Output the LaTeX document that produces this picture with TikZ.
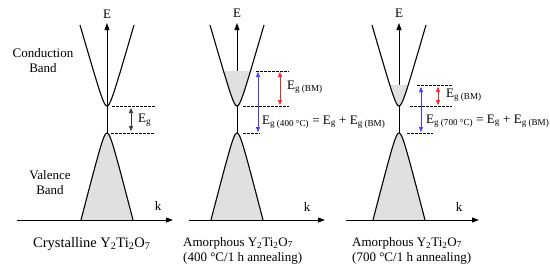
\documentclass[tikz,border=0pt]{standalone}
\usepackage{fontspec}
\setmainfont{Liberation Serif}
\usetikzlibrary{arrows.meta}
\definecolor{bandfill}{RGB}{224,224,224}
\definecolor{gapblue}{RGB}{60,60,255}
\definecolor{gapred}{RGB}{255,30,30}
\begin{document}
\begin{tikzpicture}[x=1pt,y=-1pt,
  band/.style={line width=1.1pt},
  axisline/.style={line width=0.9pt,-{Triangle[length=7pt,width=5pt]}},
  guide/.style={dash pattern=on 2.5pt off 1.5pt, line width=0.5pt},
  gaparrow/.style={line width=0.6pt,{Triangle[length=5pt,width=4pt]}-{Triangle[length=5pt,width=4pt]}},
  lbl/.style={font=\fontsize{13}{15}\selectfont, inner sep=0pt},
]
\useasboundingbox (0,0) rectangle (550,274);

% ---------- vertical E axes ----------
\foreach \cx/\n in {107/1,237/2,399/3}{
  \coordinate (eb\n) at (\cx,133);
  \coordinate (et\n) at (\cx,23);
  \draw[axisline] (eb\n) -- (et\n);
}

% ---------- fills ----------
\foreach \cx in {107,237,399}{
  \fill[bandfill] plot[domain=-26:26,samples=61] ({\cx+\x},{133+15.6*(sqrt(1+(\x/4)^2)-1)}) -- cycle;
}
\fill[bandfill] plot[domain=-13.48:13.48,samples=41] ({237+\x},{106-13.91*(sqrt(1+(\x/4)^2)-1)}) -- cycle;
\fill[bandfill] plot[domain=-9.21:9.21,samples=31] ({399+\x},{106-13.91*(sqrt(1+(\x/4)^2)-1)}) -- cycle;

% ---------- horizontal k axes ----------
\coordinate (ks1) at (17,220);  \coordinate (ke1) at (173,220);
\coordinate (ks2) at (189,220); \coordinate (ke2) at (325,220);
\coordinate (ks3) at (346,220); \coordinate (ke3) at (479,220);
\draw[axisline] (ks1) -- (ke1);
\draw[axisline] (ks2) -- (ke2);
\draw[axisline] (ks3) -- (ke3);

% ---------- band curves ----------
\foreach \cx in {107,237,399}{
  \draw[band] plot[domain=-26:26,samples=61] ({\cx+\x},{133+15.6*(sqrt(1+(\x/4)^2)-1)});
  \draw[band] plot[domain=-27:27,samples=61] ({\cx+\x},{106-13.91*(sqrt(1+(\x/4)^2)-1)});
}

% ---------- axis labels ----------
\node[lbl] (E1) at (107,14) {E};
\node[lbl] (E2) at (237,13) {E};
\node[lbl] (E3) at (399,13) {E};
\node[lbl] (k1) at (158,206) {k};
\node[lbl] (k2) at (307,207) {k};
\node[lbl] (k3) at (459,207) {k};

\node[lbl,align=center] (cb) at (43,61) {Conduction\\Band};
\node[lbl,align=center] (vb) at (50,183) {Valence\\Band};

% ---------- panel 1 gap ----------
\coordinate (d1a) at (112,106); \coordinate (d1b) at (155,106);
\coordinate (d1c) at (111,133); \coordinate (d1d) at (155,133);
\draw[guide] (d1a) -- (d1b);
\draw[guide] (d1c) -- (d1d);
\coordinate (g1t) at (131,108); \coordinate (g1b) at (131,131);
\draw[gaparrow,black!80] (g1t) -- (g1b);
\node[lbl,anchor=west] (eg1) at (138,120) {E\textsubscript{g}};

% ---------- panel 2 gap ----------
\coordinate (d2a) at (256,71);  \coordinate (d2b) at (289,71);
\coordinate (d2c) at (243,106); \coordinate (d2d) at (289,106);
\coordinate (d2e) at (243,133); \coordinate (d2f) at (260,133);
\draw[guide] (d2a) -- (d2b);
\draw[guide] (d2c) -- (d2d);
\draw[guide] (d2e) -- (d2f);
\coordinate (b2t) at (258,72); \coordinate (b2b) at (258,132);
\coordinate (r2t) at (280,72); \coordinate (r2b) at (280,105);
\draw[gaparrow,gapblue] (b2t) -- (b2b);
\draw[gaparrow,gapred] (r2t) -- (r2b);
\node[lbl,anchor=west] (bm2) at (287,87) {E\textsubscript{g (BM)}};
\node[lbl,anchor=west] (tot2) at (262,122) {E\textsubscript{g (400 °C)} = E\textsubscript{g} + E\textsubscript{g (BM)}};

% ---------- panel 3 gap ----------
\coordinate (d3a) at (417,85);  \coordinate (d3b) at (452,85);
\coordinate (d3c) at (410,106); \coordinate (d3d) at (452,106);
\coordinate (d3e) at (407,133); \coordinate (d3f) at (433,133);
\draw[guide] (d3a) -- (d3b);
\draw[guide] (d3c) -- (d3d);
\draw[guide] (d3e) -- (d3f);
\coordinate (b3t) at (421,87); \coordinate (b3b) at (421,132);
\coordinate (r3t) at (438,87); \coordinate (r3b) at (438,105);
\draw[gaparrow,gapblue] (b3t) -- (b3b);
\draw[gaparrow,gapred] (r3t) -- (r3b);
\node[lbl,anchor=west] (bm3) at (446,95) {E\textsubscript{g (BM)}};
\node[lbl,anchor=west] (tot3) at (426,121) {E\textsubscript{g (700 °C)} = E\textsubscript{g} + E\textsubscript{g (BM)}};

% ---------- captions ----------
\node[lbl,anchor=west,font=\fontsize{14.5}{16}\selectfont] (cap1) at (33,244) {Crystalline Y\textsubscript{2}Ti\textsubscript{2}O\textsubscript{7}};
\node[lbl,anchor=west,align=left] (cap2) at (183,250.5) {Amorphous Y\textsubscript{2}Ti\textsubscript{2}O\textsubscript{7}\\(400 °C/1 h annealing)};
\node[lbl,anchor=west,align=left] (cap3) at (352,250.5) {Amorphous Y\textsubscript{2}Ti\textsubscript{2}O\textsubscript{7}\\(700 °C/1 h annealing)};
\end{tikzpicture}
\end{document}
